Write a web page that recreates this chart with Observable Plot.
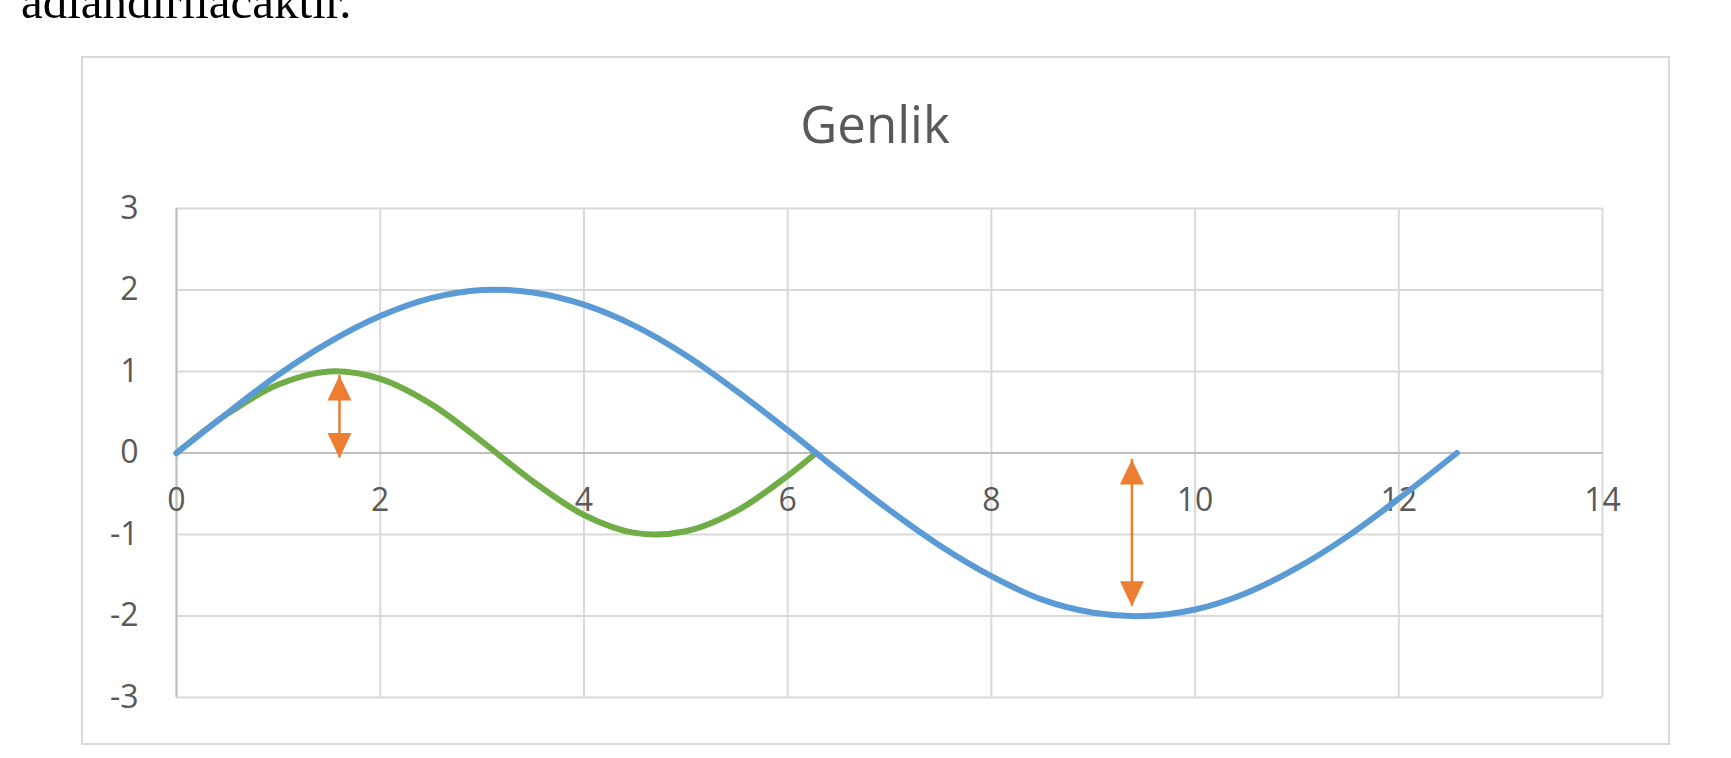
<!DOCTYPE html>
<html>
<head>
<meta charset="utf-8">
<script src="https://cdn.jsdelivr.net/npm/d3@7"></script>
<script src="https://cdn.jsdelivr.net/npm/@observablehq/plot@0.6"></script>
<style>
  html, body { margin: 0; padding: 0; background: #fff; overflow: hidden; }
  #page { position: relative; width: 1731px; height: 758px; }
  #para { position: absolute; left: 21px; top: -23px; font-family: "Liberation Serif", "Times New Roman", serif; font-size: 49px; line-height: 49px; color: #000; white-space: nowrap; }
  #box { position: absolute; left: 81px; top: 56px; width: 1585px; height: 685px; border: 2px solid #d9d9d9; }
  #title { position: absolute; left: 82px; width: 1586px; top: 98px; text-align: center; font-family: "Open Sans", sans-serif; font-size: 51px; line-height: 51px; color: #595959; }
  #chart { position: absolute; left: 0; top: 0; }
</style>
</head>
<body>
<div id="page">
  <div id="para">adlandırılacaktır.</div>
  <div id="box"></div>
  <div id="title">Genlik</div>
  <div id="chart"></div>
</div>
<script>
// Tick labels
const xTicks = [0, 2, 4, 6, 8, 10, 12, 14];
const yTicks = [-3, -2, -1, 0, 1, 2, 3];

// Blue series (amplitude 2)
const blueX = [0, 0.5, 1, 1.5, 2, 2.5, 3, 3.5, 4, 4.5, 5, 5.5, 6, 6.5, 7, 7.5, 8, 8.5, 9, 9.5, 10, 10.5, 11, 11.5, 12, 12.57];
const blueY = [0, 0.49, 0.96, 1.36, 1.68, 1.9, 2.0, 1.97, 1.82, 1.56, 1.2, 0.76, 0.28, -0.22, -0.7, -1.14, -1.51, -1.8, -1.96, -2.0, -1.92, -1.72, -1.41, -1.02, -0.56, 0];

// Green series (amplitude 1)
const greenX = [0, 0.5, 1, 1.5, 2, 2.5, 3, 3.5, 4, 4.5, 5, 5.5, 6, 6.28];
const greenY = [0, 0.48, 0.84, 1.0, 0.91, 0.6, 0.14, -0.35, -0.76, -0.98, -0.96, -0.71, -0.28, 0];

// Orange amplitude arrows: x, top tip, bottom tip
const arrowX = [1.6, 9.38];
const arrowTop = [0.95, -0.08];
const arrowBottom = [-0.06, -1.88];

const blue = blueX.map((x, i) => ({x, y: blueY[i]}));
const green = greenX.map((x, i) => ({x, y: greenY[i]}));
const arrows = arrowX.map((x, i) => ({x, y1: arrowTop[i], y2: arrowBottom[i]}));

// arrow head symbols (tip at origin)
const headUp = { draw(ctx) { ctx.moveTo(0, 0); ctx.lineTo(-12, 25); ctx.lineTo(12, 25); ctx.closePath(); } };
const headDown = { draw(ctx) { ctx.moveTo(0, 0); ctx.lineTo(-12, -25); ctx.lineTo(12, -25); ctx.closePath(); } };

const font = "'Open Sans', sans-serif";
const textColor = "#595959";

const chart = Plot.plot({
  width: 1731,
  height: 758,
  marginLeft: 176,
  marginRight: 129,
  marginTop: 208,
  marginBottom: 61,
  style: { fontFamily: font, background: "transparent" },
  x: { domain: [0, 14], axis: null },
  y: { domain: [-3, 3], axis: null },
  marks: [
    Plot.gridX(xTicks, { stroke: "#d9d9d9", strokeOpacity: 1, strokeWidth: 2 }),
    Plot.gridY(yTicks, { stroke: "#d9d9d9", strokeOpacity: 1, strokeWidth: 2 }),
    Plot.ruleY([0], { stroke: "#bfbfbf", strokeWidth: 2 }),
    Plot.ruleX([0], { stroke: "#bfbfbf", strokeWidth: 2 }),
    Plot.axisY(yTicks, { tickSize: 0, tickPadding: 38, fontSize: 32, fill: textColor, tickFormat: d => String(d) }),
    Plot.text(xTicks, { x: d => d, y: 0, dy: 48, text: d => String(d), fontSize: 32, fill: textColor }),
    Plot.line(green, { x: "x", y: "y", stroke: "#70ad47", strokeWidth: 6, curve: "catmull-rom", strokeLinecap: "round" }),
    Plot.line(blue, { x: "x", y: "y", stroke: "#5b9bd5", strokeWidth: 6, curve: "catmull-rom", strokeLinecap: "round" }),
    Plot.ruleX(arrows, { x: "x", y1: "y1", y2: "y2", stroke: "#ed7d31", strokeWidth: 2.5 }),
    Plot.dot(arrows, { x: "x", y: "y1", r: 5, symbol: headUp, fill: "#ed7d31", stroke: null }),
    Plot.dot(arrows, { x: "x", y: "y2", r: 5, symbol: headDown, fill: "#ed7d31", stroke: null })
  ]
});
document.getElementById("chart").appendChild(chart);
</script>
</body>
</html>
